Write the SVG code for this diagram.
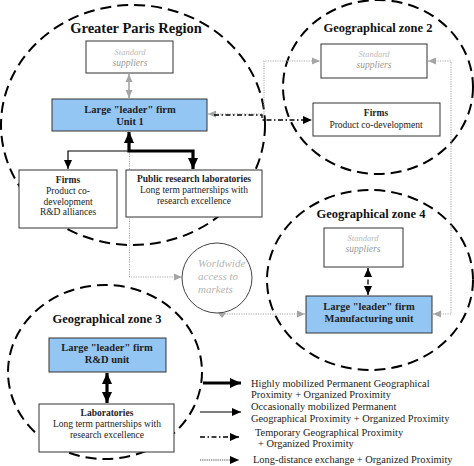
<svg xmlns="http://www.w3.org/2000/svg" width="474" height="466" viewBox="0 0 474 466" font-family="'Liberation Serif', 'Times New Roman', serif">
<style>
.zone{fill:none;stroke:#000;stroke-width:2;stroke-dasharray:11,6}
.box{fill:#fff;stroke:#333;stroke-width:1}
.lead{fill:#94c6f4;stroke:#333;stroke-width:1}
text{font-family:"Liberation Serif","Times New Roman",serif;fill:#222}
.title{font-weight:bold;font-size:12.5px;text-anchor:middle;fill:#111}
.b{font-weight:bold;font-size:10.5px;text-anchor:middle}
.bs{font-weight:bold;font-size:9.5px;text-anchor:middle}
.t{font-size:9.5px;text-anchor:middle}
.sup{font-style:italic;font-size:9.5px;text-anchor:middle;fill:#999}
.std{font-style:italic;font-size:8.5px;text-anchor:middle;fill:#bbb}
.ww{font-style:italic;font-size:11px;fill:#b5b5b5}
.leg{font-size:10.4px;fill:#222}
.thin{fill:none;stroke:#000;stroke-width:1.2}
.thick{fill:none;stroke:#000;stroke-width:3.2}
.dd{fill:none;stroke:#000;stroke-width:1.3;stroke-dasharray:5,2.5,1.5,2.5}
.dot{fill:none;stroke:#aaa;stroke-width:1.1;stroke-dasharray:1.2,1.2}
.gray{fill:none;stroke:#999;stroke-width:1.4}
</style>
<defs>
<marker id="ab" markerUnits="userSpaceOnUse" markerWidth="10" markerHeight="10" viewBox="0 0 10 10" refX="9" refY="5" orient="auto-start-reverse"><path d="M0,1 L9,5 L0,9 z" fill="#000"/></marker>
<marker id="abig" markerUnits="userSpaceOnUse" markerWidth="12" markerHeight="12" viewBox="0 0 12 12" refX="11" refY="6" orient="auto-start-reverse"><path d="M0,1 L11,6 L0,11 z" fill="#000"/></marker>
<marker id="ag" markerUnits="userSpaceOnUse" markerWidth="9" markerHeight="9" viewBox="0 0 9 9" refX="8" refY="4.5" orient="auto-start-reverse"><path d="M0,1 L8,4.5 L0,8 z" fill="#a5a5a5"/></marker>
</defs>

<g id="zones">
<ellipse id="zone-paris" class="zone" cx="133" cy="125" rx="132" ry="120"/>
<ellipse id="zone-2" class="zone" cx="378" cy="87" rx="95" ry="87"/>
<ellipse id="zone-4" class="zone" cx="370" cy="280" rx="103" ry="90"/>
<ellipse id="zone-3" class="zone" cx="105" cy="372" rx="97" ry="87"/>
</g>

<g id="titles">
<text x="136" y="33" class="title" style="font-size:14.5px">Greater Paris Region</text>
<text x="378" y="32" class="title">Geographical zone 2</text>
<text x="371" y="218" class="title">Geographical zone 4</text>
<text x="107" y="323" class="title">Geographical zone 3</text>
</g>

<g id="connectors">
<path class="gray" d="M129,74 V98" marker-start="url(#ag)" marker-end="url(#ag)"/>
<path class="dot" d="M129.5,132 V277 H182" marker-start="url(#ag)" marker-end="url(#ag)"/>
<path class="thin" d="M129,151 H68 V169" marker-end="url(#ab)"/>
<path class="thick" d="M129,132 V151 H193 V169" marker-start="url(#abig)" marker-end="url(#abig)"/>
<path class="dot" d="M208,114 H264 V61 H320" marker-start="url(#ag)" marker-end="url(#ag)"/>
<path class="dd" d="M214,115 H262 V120 H312" marker-end="url(#ab)"/>
<path class="dot" d="M428,61 H451 V314 H433" marker-start="url(#ag)" marker-end="url(#ag)"/>
<path class="dot" d="M222,314 H305" marker-end="url(#ag)"/>
<path d="M218,313 L226,313 L222,318 z" fill="#a5a5a5"/>
<path class="dd" d="M368,268 V295" marker-start="url(#ab)" marker-end="url(#ab)"/>
<path class="thick" d="M107,373 V403" marker-start="url(#abig)" marker-end="url(#abig)"/>
</g>

<g id="paris-suppliers">
<rect class="box" x="86" y="41" width="87" height="32"/>
<text x="130" y="55" class="std">Standard</text>
<text x="130" y="66" class="sup">suppliers</text>
</g>
<g id="paris-unit1">
<rect class="lead" x="52" y="99" width="155" height="32"/>
<text x="130" y="113" class="b">Large "leader" firm</text>
<text x="130" y="125" class="b">Unit 1</text>
</g>
<g id="paris-firms">
<rect class="box" x="19" y="170" width="98" height="58"/>
<text x="68" y="183" class="bs">Firms</text>
<text x="68" y="194" class="t">Product co-</text>
<text x="68" y="204.5" class="t">development</text>
<text x="68" y="215" class="t">R&amp;D alliances</text>
</g>
<g id="paris-labs">
<rect class="box" x="126" y="170" width="136" height="47"/>
<text x="194" y="182" class="bs">Public research laboratories</text>
<text x="194" y="193" class="t">Long term partnerships with</text>
<text x="194" y="204" class="t">research excellence</text>
</g>
<g id="z2-suppliers">
<rect class="box" x="321" y="44" width="106" height="34"/>
<text x="374" y="57" class="std">Standard</text>
<text x="374" y="68" class="sup">suppliers</text>
</g>
<g id="z2-firms">
<rect class="box" x="313" y="103" width="127" height="33"/>
<text x="376" y="116" class="bs">Firms</text>
<text x="376" y="128" class="t">Product co-development</text>
</g>
<g id="z4-suppliers">
<rect class="box" x="324" y="228" width="79" height="39"/>
<text x="363" y="241" class="std">Standard</text>
<text x="363" y="252" class="sup">suppliers</text>
</g>
<g id="z4-manufacturing">
<rect class="lead" x="306" y="296" width="126" height="37"/>
<text x="369" y="310" class="b">Large "leader" firm</text>
<text x="369" y="322" class="b">Manufacturing unit</text>
</g>
<g id="z3-rd">
<rect class="lead" x="49" y="338" width="117" height="34"/>
<text x="107" y="351" class="b">Large "leader" firm</text>
<text x="107" y="363" class="b">R&amp;D unit</text>
</g>
<g id="z3-labs">
<rect class="box" x="39" y="404" width="135" height="48"/>
<text x="107" y="416" class="bs">Laboratories</text>
<text x="107" y="427" class="t">Long term partnerships with</text>
<text x="107" y="438" class="t">research excellence</text>
</g>
<g id="worldwide">
<circle cx="217" cy="278" r="35" fill="#fff" stroke="#444" stroke-width="1"/>
<text x="198" y="267" class="ww">Worldwide</text>
<text x="198" y="280" class="ww">access to</text>
<text x="198" y="293" class="ww">markets</text>
</g>

<g id="legend">
<path class="thick" d="M203,383 H241" marker-end="url(#abig)"/>
<path class="thin" d="M200,412 H241" marker-end="url(#ab)"/>
<path class="dd" d="M200,437 H239" marker-end="url(#ab)"/>
<path d="M200,460 H239" fill="none" stroke="#444" stroke-width="1" stroke-dasharray="1.2,1" marker-end="url(#ab)"/>
<text x="251" y="387" class="leg">Highly mobilized Permanent Geographical</text>
<text x="251" y="398" class="leg">Proximity + Organized Proximity</text>
<text x="251" y="410" class="leg">Occasionally mobilized Permanent</text>
<text x="251" y="422" class="leg">Geographical Proximity + Organized Proximity</text>
<text x="255" y="436" class="leg">Temporary Geographical Proximity</text>
<text x="258" y="447" class="leg">+ Organized Proximity</text>
<text x="253" y="463" class="leg">Long-distance exchange + Organized Proximity</text>
</g>
</svg>
